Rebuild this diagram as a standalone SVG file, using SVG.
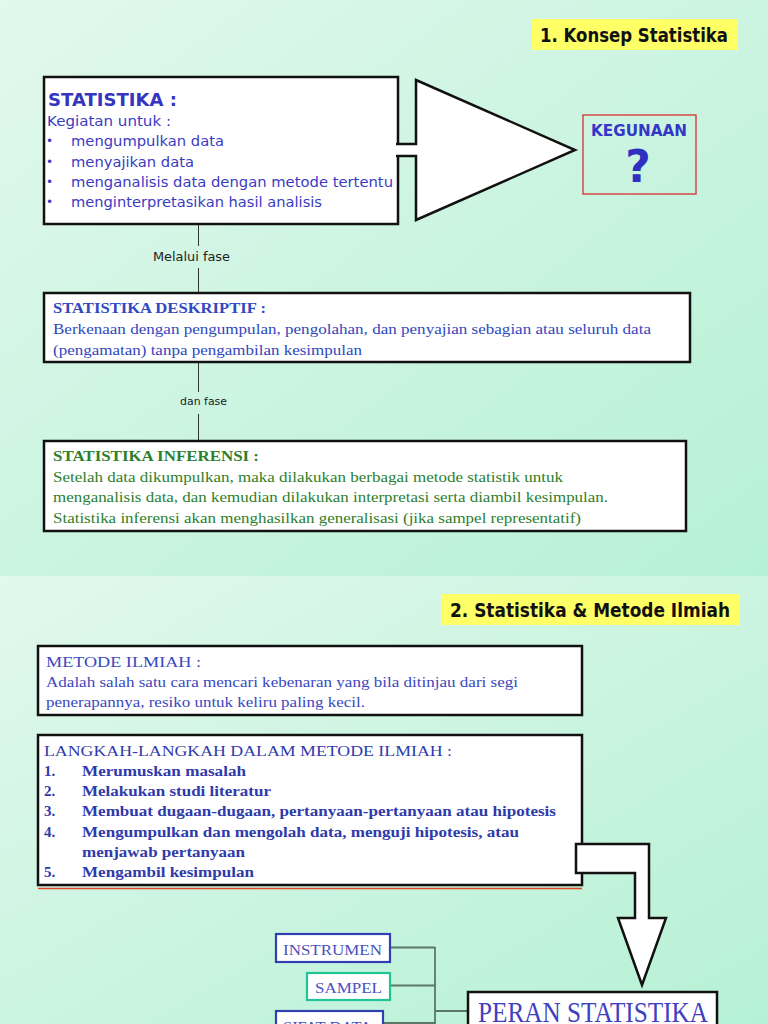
<svg xmlns="http://www.w3.org/2000/svg" width="768" height="1024" viewBox="0 0 768 1024">
<defs>
<linearGradient id="bg" x1="0" y1="0" x2="1" y2="1">
<stop offset="0" stop-color="#e1f8ed"/>
<stop offset="1" stop-color="#b6f1d5"/>
</linearGradient>
</defs>
<style>
.box{fill:#fff;stroke:#111;stroke-width:2.5}
.sans{font-family:"DejaVu Sans",Verdana,sans-serif}
.serif{font-family:"Liberation Serif","Times New Roman",serif}
.ttl{fill:#ffff66}
.ttxt{font-family:"DejaVu Sans",Verdana,sans-serif;font-weight:bold;font-size:19px;fill:#111}
.b1{fill:#3b3bc4;font-size:14.5px}
.desk{fill:#3048c0;font-size:15px}
.inf{fill:#2d7f2d;font-size:15px}
.met{fill:#3a48c0;font-size:15.5px}
.lk{fill:#2f3aab;font-size:15px;font-weight:bold}
.conn{stroke:#333;stroke-width:1;fill:none}
.conn2{stroke:#5a7868;stroke-width:1.8;fill:none}
.lbl{fill:#222}
.small{fill:#fff;stroke-width:2.2}
.stxt{fill:#4a50c0;font-size:15px}
</style>
<rect x="0" y="0" width="768" height="576" fill="url(#bg)"/>
<rect x="0" y="576" width="768" height="448" fill="url(#bg)"/>

<g id="title1">
<rect class="ttl" x="532" y="19" width="206" height="31"/>
<text class="ttxt" x="540" y="42" textLength="188" lengthAdjust="spacingAndGlyphs">1. Konsep Statistika</text>
</g>

<g id="connectors">
<path class="conn" d="M198.5,224 V246 M198.5,268 V293 M198.5,362 V392 M198.5,414 V441"/>
<path class="conn2" d="M390,947.5 H435 M390,985.5 H435 M383,1023 H435 M435,947 V1024 M435,1011 H468"/>
<text class="sans lbl" x="153" y="261" font-size="12.5" textLength="77" lengthAdjust="spacingAndGlyphs">Melalui fase</text>
<text class="sans lbl" x="180" y="405" font-size="11" textLength="47" lengthAdjust="spacingAndGlyphs">dan fase</text>
</g>

<g id="statistika">
<rect class="box" x="44" y="77" width="354" height="147"/>
<text class="sans" x="48" y="106" font-size="18" font-weight="bold" fill="#3535c0" textLength="129" lengthAdjust="spacingAndGlyphs">STATISTIKA :</text>
<text class="sans b1" x="47" y="126" textLength="124" lengthAdjust="spacingAndGlyphs">Kegiatan untuk :</text>
<g class="sans b1">
<text x="46" y="145" font-size="12">•</text>
<text x="46" y="166" font-size="12">•</text>
<text x="46" y="186" font-size="12">•</text>
<text x="46" y="206" font-size="12">•</text>
<text x="71" y="146" textLength="153" lengthAdjust="spacingAndGlyphs">mengumpulkan data</text>
<text x="71" y="167" textLength="123" lengthAdjust="spacingAndGlyphs">menyajikan data</text>
<text x="71" y="187" textLength="322" lengthAdjust="spacingAndGlyphs">menganalisis data dengan metode tertentu</text>
<text x="71" y="207" textLength="251" lengthAdjust="spacingAndGlyphs">menginterpretasikan hasil analisis</text>
</g>
</g>

<g id="bigArrow">
<path d="M396,144 H416 V80 L575,150 L416,220 V156 H396" fill="#fff" stroke="#111" stroke-width="2.5" stroke-linejoin="miter"/>
</g>

<g id="kegunaan">
<rect x="583" y="115" width="113" height="79" fill="none" stroke="#d83030" stroke-width="1.3"/>
<text class="sans" x="639" y="136" font-size="15" font-weight="bold" fill="#3535c8" text-anchor="middle" textLength="96" lengthAdjust="spacingAndGlyphs">KEGUNAAN</text>
<text class="sans" x="638" y="182" font-size="44" font-weight="bold" fill="#3030c0" text-anchor="middle">?</text>
</g>

<g id="deskriptif">
<rect class="box" x="44" y="293" width="646" height="69"/>
<text class="serif desk" x="53" y="313" font-weight="bold" textLength="213" lengthAdjust="spacingAndGlyphs">STATISTIKA DESKRIPTIF :</text>
<text class="serif desk" x="53" y="334" textLength="598" lengthAdjust="spacingAndGlyphs">Berkenaan dengan pengumpulan, pengolahan, dan penyajian sebagian atau seluruh data</text>
<text class="serif desk" x="53" y="355" textLength="309" lengthAdjust="spacingAndGlyphs">(pengamatan) tanpa pengambilan kesimpulan</text>
</g>

<g id="inferensi">
<rect class="box" x="44" y="441" width="642" height="90"/>
<text class="serif inf" x="53" y="461" font-weight="bold" textLength="206" lengthAdjust="spacingAndGlyphs">STATISTIKA INFERENSI :</text>
<text class="serif inf" x="53" y="482" textLength="510" lengthAdjust="spacingAndGlyphs">Setelah data dikumpulkan, maka dilakukan berbagai metode statistik untuk</text>
<text class="serif inf" x="53" y="502" textLength="555" lengthAdjust="spacingAndGlyphs">menganalisis data, dan kemudian dilakukan interpretasi serta diambil kesimpulan.</text>
<text class="serif inf" x="53" y="523" textLength="528" lengthAdjust="spacingAndGlyphs">Statistika inferensi akan menghasilkan generalisasi (jika sampel representatif)</text>
</g>

<g id="title2">
<rect class="ttl" x="441" y="594" width="299" height="31"/>
<text class="ttxt" x="450" y="617" textLength="280" lengthAdjust="spacingAndGlyphs">2. Statistika &amp; Metode Ilmiah</text>
</g>

<g id="metodeIlmiah">
<rect class="box" x="38" y="646" width="544" height="69"/>
<text class="serif met" x="46" y="667" textLength="155" lengthAdjust="spacingAndGlyphs">METODE ILMIAH :</text>
<text class="serif met" x="46" y="687" textLength="472" lengthAdjust="spacingAndGlyphs">Adalah salah satu cara mencari kebenaran yang bila ditinjau dari segi</text>
<text class="serif met" x="46" y="707" textLength="319" lengthAdjust="spacingAndGlyphs">penerapannya, resiko untuk keliru paling kecil.</text>
</g>

<g id="langkah">
<line x1="38" y1="888.5" x2="582" y2="888.5" stroke="#e04a2a" stroke-width="1.5"/>
<rect class="box" x="38" y="735" width="544" height="150"/>
<text class="serif" x="44" y="756" font-size="15" fill="#2f3aab" textLength="408" lengthAdjust="spacingAndGlyphs">LANGKAH-LANGKAH DALAM METODE ILMIAH :</text>
<g class="serif lk">
<text x="44" y="776">1.</text>
<text x="44" y="796">2.</text>
<text x="44" y="816">3.</text>
<text x="44" y="837">4.</text>
<text x="44" y="877">5.</text>
<text x="82" y="776" textLength="164" lengthAdjust="spacingAndGlyphs">Merumuskan masalah</text>
<text x="82" y="796" textLength="189" lengthAdjust="spacingAndGlyphs">Melakukan studi literatur</text>
<text x="82" y="816" textLength="474" lengthAdjust="spacingAndGlyphs">Membuat dugaan-dugaan, pertanyaan-pertanyaan atau hipotesis</text>
<text x="82" y="837" textLength="437" lengthAdjust="spacingAndGlyphs">Mengumpulkan dan mengolah data, menguji hipotesis, atau</text>
<text x="82" y="857" textLength="163" lengthAdjust="spacingAndGlyphs">menjawab pertanyaan</text>
<text x="82" y="877" textLength="172" lengthAdjust="spacingAndGlyphs">Mengambil kesimpulan</text>
</g>
</g>

<g id="bentArrow">
<path d="M576,844 H649 V918 H666 L642,985 L618,918 H635 V873 H576 Z" fill="#fff" stroke="#111" stroke-width="2.5" stroke-linejoin="miter"/>
</g>

<g id="instrumen">
<rect class="small" x="276" y="934" width="114" height="28" stroke="#3040b0"/>
<text class="serif stxt" x="283" y="955" textLength="99" lengthAdjust="spacingAndGlyphs">INSTRUMEN</text>
</g>
<g id="sampel">
<rect class="small" x="307" y="973" width="83" height="27" stroke="#22c496"/>
<text class="serif stxt" x="315" y="993" textLength="67" lengthAdjust="spacingAndGlyphs">SAMPEL</text>
</g>
<g id="sifatData">
<rect class="small" x="276" y="1011" width="107" height="30" stroke="#3040b0"/>
<text class="serif stxt" x="283" y="1032" textLength="89" lengthAdjust="spacingAndGlyphs">SIFAT DATA</text>
</g>
<g id="peran">
<rect class="box" x="468" y="992" width="249" height="50"/>
<text class="serif" x="478" y="1022" font-size="29" fill="#4040c0" textLength="230" lengthAdjust="spacingAndGlyphs">PERAN STATISTIKA</text>
</g>
</svg>
